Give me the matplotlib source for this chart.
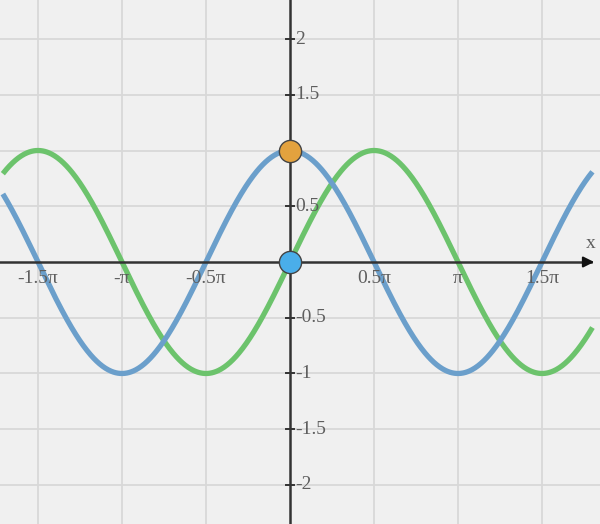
import numpy as np
import matplotlib
matplotlib.use("Agg")
import matplotlib.pyplot as plt

# ---- data ----
x_min_pi, x_max_pi = -1.726, 1.845      # view range in multiples of pi
y_min, y_max = -2.35, 2.35
curve_start_pi, curve_end_pi = -1.709, 1.80
x_tick_vals_pi = [-1.5, -1.0, -0.5, 0.5, 1.0, 1.5]
x_tick_labels = ["-1.5π", "-π", "-0.5π", "0.5π", "π", "1.5π"]
y_tick_vals = [2, 1.5, 0.5, -0.5, -1, -1.5, -2]
y_tick_labels = ["2", "1.5", "0.5", "-0.5", "-1", "-1.5", "-2"]
grid_x_pi = [-1.5, -1.0, -0.5, 0.5, 1.0, 1.5]
grid_y = [-2, -1.5, -1, -0.5, 0.5, 1, 1.5, 2]
point_x = [0, 0]
point_y = [1, 0]
point_colors = ["#e3a23e", "#4aaeea"]

pi = np.pi
fig = plt.figure(figsize=(6.0, 5.24), dpi=100)
fig.patch.set_facecolor("#f0f0f0")
ax = fig.add_axes([0, 0, 1, 1])
ax.set_facecolor("#f0f0f0")
ax.set_xlim(x_min_pi * pi, x_max_pi * pi)
ax.set_ylim(y_min, y_max)
for s in ax.spines.values():
    s.set_visible(False)
ax.set_xticks([])
ax.set_yticks([])

grid_c = "#d8d8d8"
for g in grid_x_pi:
    ax.axvline(g * pi, color=grid_c, lw=1.3, zorder=1)
for g in grid_y:
    ax.axhline(g, color=grid_c, lw=1.3, zorder=1)

xs = np.linspace(curve_start_pi * pi, curve_end_pi * pi, 800)
ax.plot(xs, np.sin(xs), color="#6cc36c", lw=3.8, zorder=3, solid_capstyle="butt")
ax.plot(xs, np.cos(xs), color="#6b9fcb", lw=3.8, zorder=3, solid_capstyle="butt")

# axes
axis_c = "#333333"
ax.axvline(0, color=axis_c, lw=1.8, zorder=4)
x_arrow_end = 1.81 * pi
ax.plot([x_min_pi * pi, x_arrow_end - 0.05], [0, 0], color=axis_c, lw=1.8, zorder=4)
ax.annotate("", xy=(x_arrow_end, 0), xytext=(x_arrow_end - 0.15, 0),
            arrowprops=dict(arrowstyle="-|>", color="#111111", lw=1.5,
                            mutation_scale=16, shrinkA=0, shrinkB=0), zorder=5)
txt_c = "#5e5e5e"
ax.text(1.79 * pi, 0.17, "x", family="Liberation Serif", fontsize=14,
        color=txt_c, ha="center", va="center", zorder=5)

# y ticks
for v in y_tick_vals:
    ax.plot([-0.07, 0.07], [v, v], color=axis_c, lw=1.4, zorder=4)
for v, lab in zip(y_tick_vals, y_tick_labels):
    ax.text(0.10, v, lab, family="Liberation Serif", fontsize=14,
            color=txt_c, ha="left", va="center", zorder=4)
for v, lab in zip(x_tick_vals_pi, x_tick_labels):
    ax.text(v * pi, -0.15, lab, family="Liberation Serif", fontsize=14,
            color=txt_c, ha="center", va="center", zorder=4)

for px, py, c in zip(point_x, point_y, point_colors):
    ax.plot(px, py, "o", ms=16, mfc=c, mec="#444444", mew=1.0, zorder=6)

fig.savefig("out.png", dpi=100, facecolor=fig.get_facecolor())
